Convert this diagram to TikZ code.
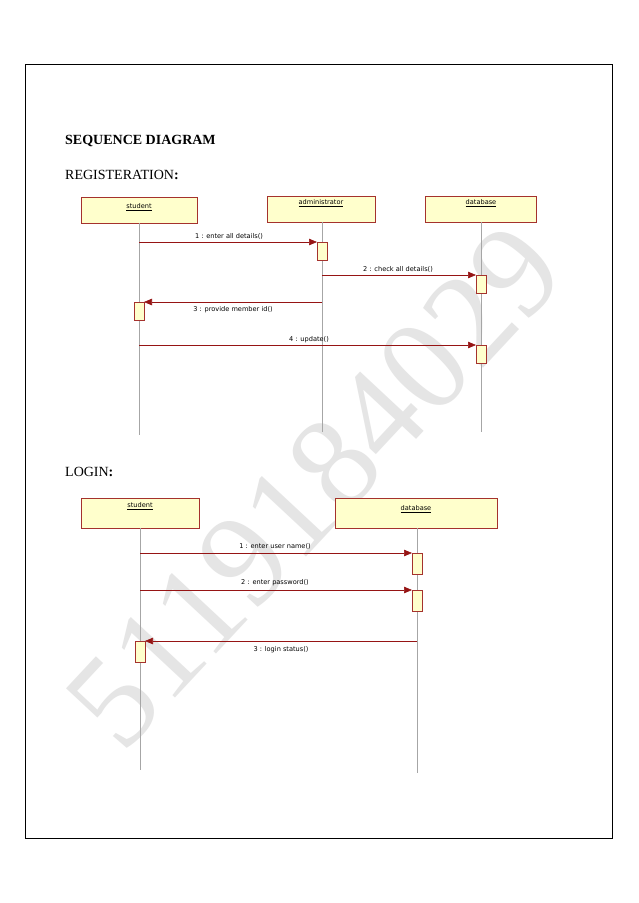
\documentclass[tikz,border=0pt]{standalone}
\usepackage{fontspec}
\setmainfont{Liberation Serif}
\newfontfamily\uml{DejaVu Sans}
\usetikzlibrary{arrows.meta}
\definecolor{boxfill}{RGB}{255,255,204}
\definecolor{boxline}{RGB}{165,50,45}
\definecolor{msg}{RGB}{150,20,20}
\begin{document}
\begin{tikzpicture}[x=1pt,y=-1pt,
  obj/.style={draw=boxline,fill=boxfill,line width=0.8pt},
  act/.style={draw=boxline,fill=boxfill,line width=0.7pt},
  life/.style={draw=gray!70,line width=0.5pt},
  msgline/.style={draw=msg,line width=0.6pt,-{Triangle[length=8pt,width=6.5pt]}},
  lab/.style={font=\uml\fontsize{6.6}{7}\selectfont,inner sep=0pt},
  head/.style={font=\fontsize{14}{16}\selectfont,anchor=west,inner sep=0pt}]
\useasboundingbox (0,0) rectangle (638,903);
\fill[white] (0,0) rectangle (638,903);
\draw[line width=0.8pt] (25,64) rectangle (612,838);
% watermark
\node[rotate=47,text=gray!20,font=\fontsize{132}{132}\selectfont,inner sep=0pt] (wm) at (314,486) {5119184029};
\node[head,font=\bfseries\fontsize{14}{16}\selectfont] (t) at (65,141) {SEQUENCE DIAGRAM};
\node[head] (r) at (65,175) {REGISTERATION\textbf{:}};
\node[head] (l) at (65,472) {LOGIN\textbf{:}};
% registration
\draw[obj] (81,197) rectangle (197,223);
\node[lab] (s1) at (139,207) {\underline{student}};
\draw[obj] (267,196) rectangle (375,222);
\node[lab] (a1) at (321,203) {\underline{administrator}};
\draw[obj] (425,196) rectangle (536,222);
\node[lab] (d1) at (481,203) {\underline{database}};
\coordinate (sT) at (139,223); \coordinate (sB) at (139,435);
\coordinate (aT) at (322,222); \coordinate (aB) at (322,432);
\coordinate (dT) at (481,222); \coordinate (dB) at (481,432);
\draw[life] (sT) -- (sB); \draw[life] (aT) -- (aB); \draw[life] (dT) -- (dB);
\draw[act] (317,242) rectangle (327,260);
\draw[act] (476,275) rectangle (486,293);
\draw[act] (134,302) rectangle (144,320);
\draw[act] (476,345) rectangle (486,363);
\coordinate (m1a) at (139,242); \coordinate (m1b) at (317,242);
\coordinate (m2a) at (322,275); \coordinate (m2b) at (476,275);
\coordinate (m3a) at (322,302); \coordinate (m3b) at (144,302);
\coordinate (m4a) at (139,345); \coordinate (m4b) at (476,345);
\draw[msgline] (m1a) -- (m1b);
\draw[msgline] (m2a) -- (m2b);
\draw[msgline] (m3a) -- (m3b);
\draw[msgline] (m4a) -- (m4b);
\node[lab] (l1) at (229,236) {1 : enter all details()};
\node[lab] (l2) at (398,269) {2 : check all details()};
\node[lab] (l3) at (233,310) {3 : provide member id()};
\node[lab] (l4) at (309,340) {4 : update()};
% login
\draw[obj] (81,498) rectangle (199,528);
\node[lab] (s2) at (140,506) {\underline{student}};
\draw[obj] (335,498) rectangle (497,528);
\node[lab] (d2) at (416,509) {\underline{database}};
\coordinate (s2T) at (140,528); \coordinate (s2B) at (140,770);
\coordinate (d2T) at (417,528); \coordinate (d2B) at (417,773);
\draw[life] (s2T) -- (s2B); \draw[life] (d2T) -- (d2B);
\draw[act] (412,553) rectangle (422,574);
\draw[act] (412,590) rectangle (422,611);
\draw[act] (135,641) rectangle (145,662);
\coordinate (n1a) at (140,553); \coordinate (n1b) at (412,553);
\coordinate (n2a) at (140,590); \coordinate (n2b) at (412,590);
\coordinate (n3a) at (417,641); \coordinate (n3b) at (145,641);
\draw[msgline] (n1a) -- (n1b);
\draw[msgline] (n2a) -- (n2b);
\draw[msgline] (n3a) -- (n3b);
\node[lab] (k1) at (275,546) {1 : enter user name()};
\node[lab] (k2) at (275,583) {2 : enter password()};
\node[lab] (k3) at (281,650) {3 : login status()};
\end{tikzpicture}
\end{document}
